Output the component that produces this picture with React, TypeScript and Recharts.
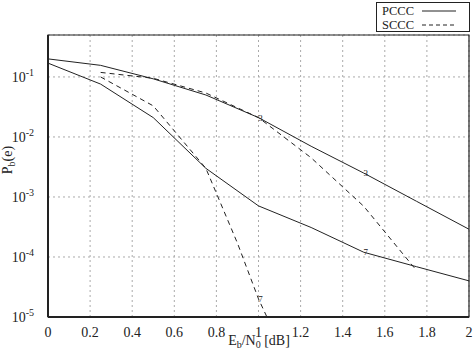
import { LineChart, Line, XAxis, YAxis, CartesianGrid, ReferenceArea, Legend, LabelList } from "recharts";

// E_b/N_0 sample points and bit error probabilities per curve
const pccc3X = [0, 0.25, 0.5, 0.75, 1, 1.25, 1.5, 1.75, 2];
const pccc3Y = [0.2, 0.156, 0.093, 0.05, 0.021, 0.007, 0.0025, 0.00085, 0.00029];
const pccc3Tag = ["", "", "", "", "", "", "3", "", ""];

const pccc7X = [0, 0.25, 0.5, 0.75, 1, 1.25, 1.5, 1.75, 2];
const pccc7Y = [0.17, 0.076, 0.021, 0.003, 0.00071, 0.00031, 0.00012, 0.000069, 0.00004];
const pccc7Tag = ["", "", "", "", "", "", "7", "", ""];

const sccc3X = [0.25, 0.5, 0.75, 1, 1.25, 1.5, 1.75];
const sccc3Y = [0.119, 0.095, 0.054, 0.021, 0.0045, 0.0007, 0.00006];
const sccc3Tag = ["", "", "", "3", "", "", ""];

const sccc7X = [0.25, 0.5, 0.75, 0.9, 1, 1.04];
const sccc7Y = [0.1, 0.033, 0.003, 0.00017, 0.00002, 0.00001];
const sccc7Tag = ["", "", "", "", "7", ""];

const xTicks = [0, 0.2, 0.4, 0.6, 0.8, 1, 1.2, 1.4, 1.6, 1.8, 2];
const yTicks = [1e-5, 1e-4, 1e-3, 1e-2, 1e-1];

const build = (xs: number[], ys: number[], tags: string[]) =>
  xs.map((x, i) => ({ x, y: ys[i], tag: tags[i] }));

const FONT = "'Liberation Serif', 'DejaVu Serif', serif";
const INK = "#222";

const YTick = ({ x, y, payload }: any) => {
  const exp = Math.round(Math.log10(payload.value));
  return (
    <text x={x - 6} y={y + 5} textAnchor="end" fontFamily={FONT} fontSize={14} fill={INK}>
      10<tspan dy={-6} fontSize={10}>{exp}</tspan>
    </text>
  );
};

const XTick = ({ x, y, payload }: any) => (
  <text x={x} y={y + 12} textAnchor="middle" fontFamily={FONT} fontSize={14} fill={INK}>
    {payload.value}
  </text>
);

const CurveTag = ({ x, y, value }: any) => {
  if (!value) return null;
  return (
    <text x={x + 2} y={y + 3} textAnchor="middle" fontFamily={FONT} fontSize={9} fill={INK}>
      {value}
    </text>
  );
};

const LegendBox = () => (
  <svg width={96} height={33} style={{ display: "block" }}>
    <rect x={0.5} y={2.5} width={93} height={29} fill="#fff" stroke={INK} />
    <text x={6} y={15} fontFamily={FONT} fontSize={12.5} fill={INK}>PCCC</text>
    <line x1={46} y1={11} x2={80} y2={11} stroke={INK} />
    <text x={6} y={29} fontFamily={FONT} fontSize={12.5} fill={INK}>SCCC</text>
    <line x1={46} y1={25} x2={80} y2={25} stroke={INK} strokeDasharray="4 3" />
  </svg>
);

export default function App() {
  return (
    <div style={{ position: "absolute", left: 0, top: 0, background: "#fff" }}>
      <LineChart width={474} height={350} margin={{ top: 2, right: 5, left: 0, bottom: 0 }}>
        <CartesianGrid stroke="#aaa" strokeDasharray="2 3" />
        <XAxis
          type="number"
          dataKey="x"
          domain={[0, 2]}
          ticks={xTicks}
          tick={<XTick />}
          tickLine={false}
          axisLine={{ stroke: INK, strokeWidth: 2 }}
          height={33}
          label={{
            position: "insideBottom",
            content: () => (
              <text x={259} y={345} textAnchor="middle" fontFamily={FONT} fontSize={14} fill={INK}>
                E<tspan dy={3} fontSize={10}>b</tspan>
                <tspan dy={-3}>/N</tspan>
                <tspan dy={3} fontSize={10}>0</tspan>
                <tspan dy={-3}> [dB]</tspan>
              </text>
            ),
          }}
        />
        <YAxis
          type="number"
          dataKey="y"
          scale="log"
          domain={[1e-5, 0.5]}
          allowDataOverflow
          ticks={yTicks}
          tick={<YTick />}
          tickLine={false}
          axisLine={{ stroke: INK, strokeWidth: 2 }}
          width={48}
          label={{
            position: "insideLeft",
            content: () => (
              <text
                x={12}
                y={160}
                transform="rotate(-90 12 160)"
                textAnchor="middle"
                fontFamily={FONT}
                fontSize={14}
                fill={INK}
              >
                P<tspan dy={3} fontSize={10}>b</tspan>
                <tspan dy={-3}>(e)</tspan>
              </text>
            ),
          }}
        />
        <ReferenceArea x1={0} x2={2} y1={1e-5} y2={0.5} fill="none" stroke={INK} strokeWidth={1.2} />
        <Legend
          verticalAlign="top"
          align="right"
          content={<LegendBox />}
          wrapperStyle={{ position: "absolute", top: 0, left: 376, width: 96, height: 33 }}
        />
        <Line
          data={build(pccc3X, pccc3Y, pccc3Tag)}
          dataKey="y"
          stroke={INK}
          strokeWidth={1}
          dot={false}
          isAnimationActive={false}
          name="PCCC"
        >
          <LabelList dataKey="tag" content={<CurveTag />} />
        </Line>
        <Line
          data={build(pccc7X, pccc7Y, pccc7Tag)}
          dataKey="y"
          stroke={INK}
          strokeWidth={1}
          dot={false}
          isAnimationActive={false}
          legendType="none"
        >
          <LabelList dataKey="tag" content={<CurveTag />} />
        </Line>
        <Line
          data={build(sccc3X, sccc3Y, sccc3Tag)}
          dataKey="y"
          stroke={INK}
          strokeWidth={1}
          strokeDasharray="5 4"
          dot={false}
          isAnimationActive={false}
          name="SCCC"
        >
          <LabelList dataKey="tag" content={<CurveTag />} />
        </Line>
        <Line
          data={build(sccc7X, sccc7Y, sccc7Tag)}
          dataKey="y"
          stroke={INK}
          strokeWidth={1}
          strokeDasharray="5 4"
          dot={false}
          isAnimationActive={false}
          legendType="none"
        >
          <LabelList dataKey="tag" content={<CurveTag />} />
        </Line>
      </LineChart>
    </div>
  );
}
